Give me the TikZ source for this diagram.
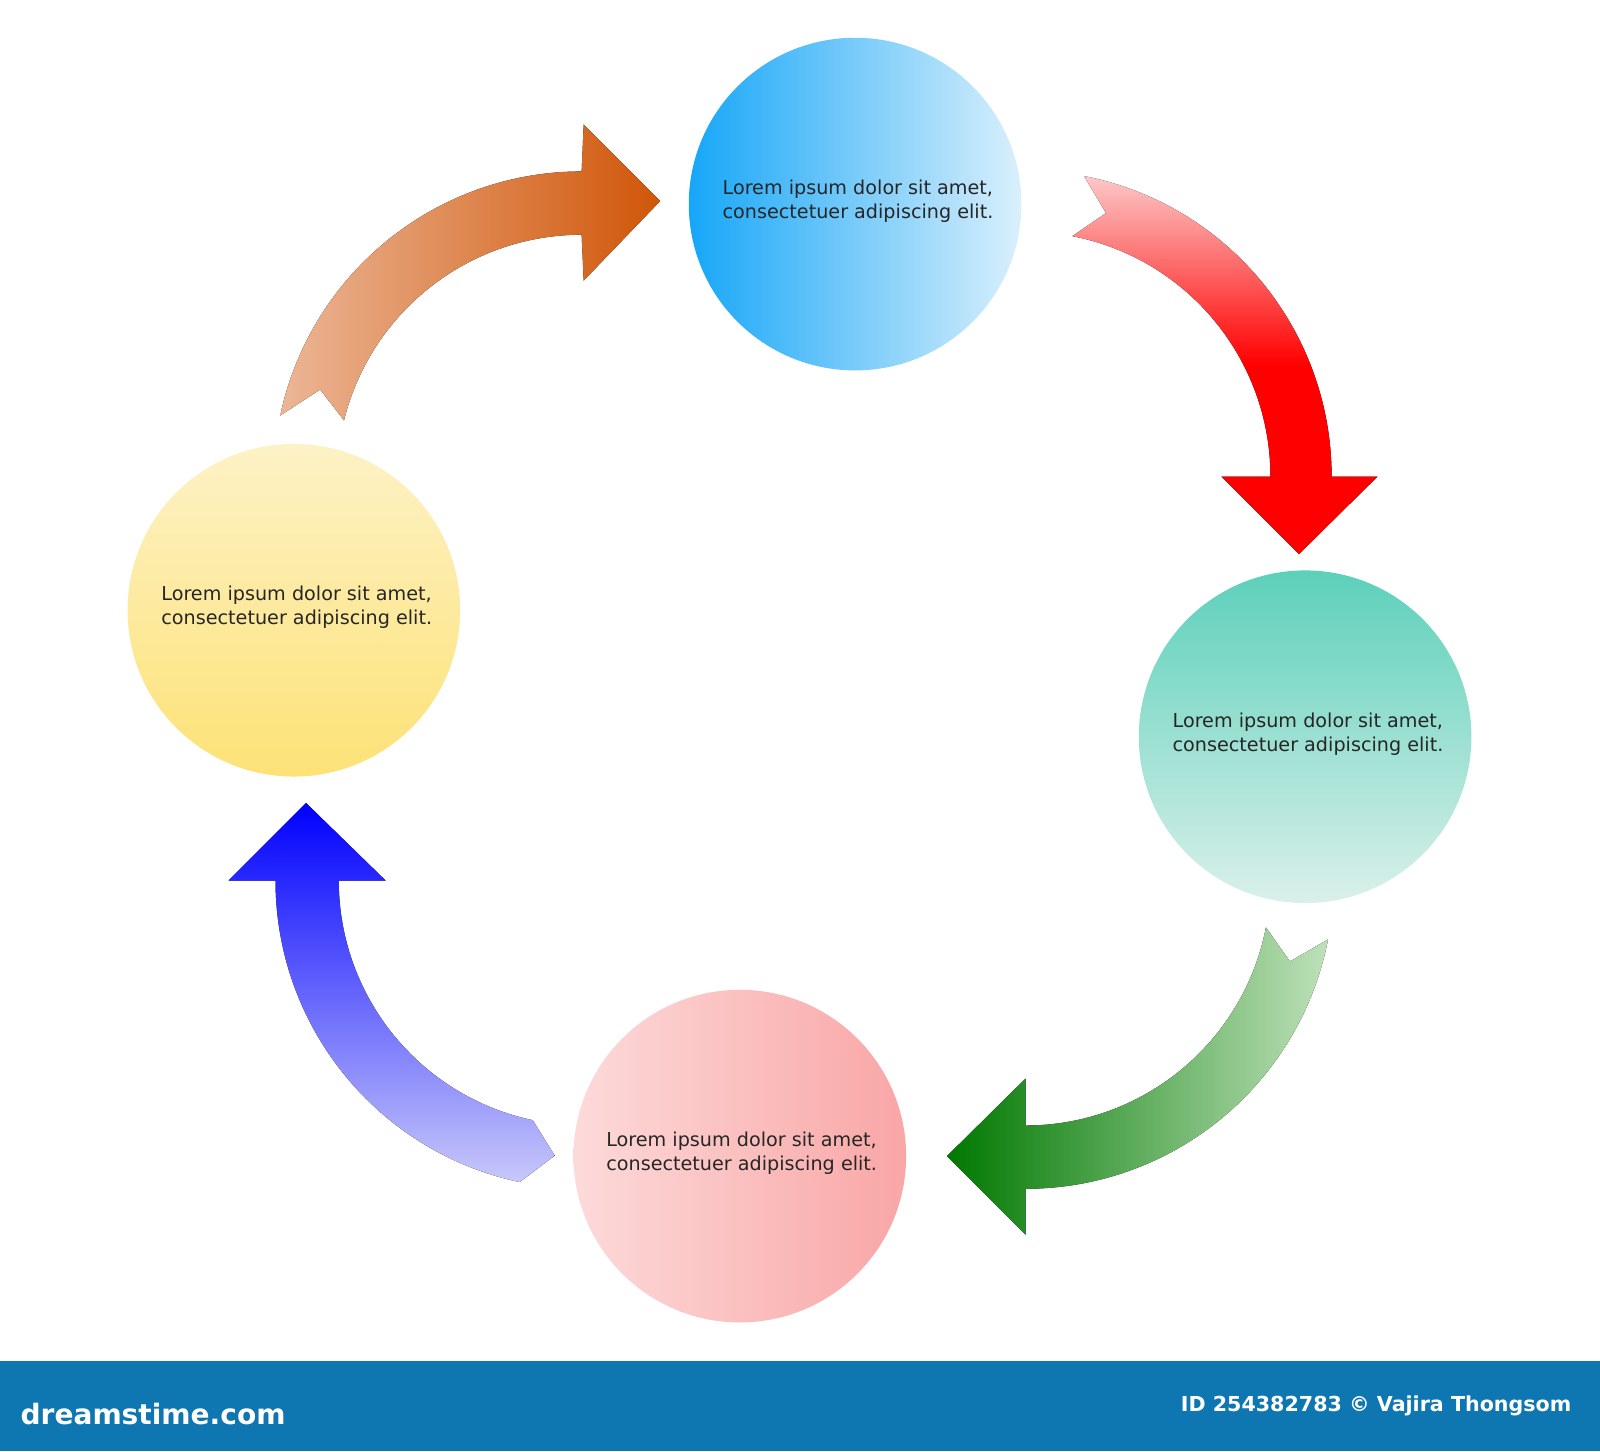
\documentclass[tikz,border=0pt]{standalone}
\usepackage{fontspec}
\setmainfont{DejaVu Sans}
\begin{document}
\begin{tikzpicture}[x=1pt,y=-1pt,
  txt/.style={anchor=north west,align=left,font=\fontsize{18.8}{24}\selectfont,text=black!85,inner sep=0pt},
  circ/.style={circle,minimum size=326pt,inner sep=0pt}]
\useasboundingbox (0,0) rectangle (1568,1422);
% circles
\node[circ,left color={rgb,255:red,22;green,166;blue,248},right color={rgb,255:red,218;green,240;blue,252}] (c1) at (838,200) {};
\node[circ,top color={rgb,255:red,92;green,208;blue,186},bottom color={rgb,255:red,218;green,240;blue,234}] (c2) at (1279,722) {};
\node[circ,left color={rgb,255:red,253;green,218;blue,218},right color={rgb,255:red,249;green,166;blue,166}] (c3) at (725,1133) {};
\node[circ,top color={rgb,255:red,253;green,242;blue,198},bottom color={rgb,255:red,253;green,226;blue,118}] (c4) at (288,598) {};
% texts
\node[txt] (t1) at (708,176) {Lorem ipsum dolor sit amet,\\consectetuer adipiscing elit.};
\node[txt] (t2) at (1149,698) {Lorem ipsum dolor sit amet,\\consectetuer adipiscing elit.};
\node[txt] (t3) at (594,1109) {Lorem ipsum dolor sit amet,\\consectetuer adipiscing elit.};
\node[txt] (t4) at (158,574) {Lorem ipsum dolor sit amet,\\consectetuer adipiscing elit.};
% orange arrow
\fill[left color={rgb,255:red,236;green,182;blue,150},right color={rgb,255:red,208;green,86;blue,8}]
 ([shift={(-168:302)}]570,470) arc[start angle=-168,end angle=-90,radius=302]
 -- (572,122) -- (647,197) -- (572,275) -- (570,230)
 arc[start angle=-90,end angle=-166,radius=240]
 -- ([shift={(-161:271)}]570,470) -- cycle;
% red arrow
\fill[top color={rgb,255:red,252;green,200;blue,200},bottom color=red,middle color=red]
 ([shift={(-79:300)}]1005,467) arc[start angle=-79,end angle=0,radius=300]
 -- (1350,467) -- (1273,543) -- (1197,467) -- (1245,467)
 arc[start angle=0,end angle=-79,radius=240]
 -- ([shift={(-73:270)}]1005,467) -- cycle;
% green arrow
\fill[left color={rgb,255:red,0;green,120;blue,0},right color={rgb,255:red,190;green,225;blue,185}]
 ([shift={(11:302)}]1005,863) arc[start angle=11,end angle=90,radius=302]
 -- (1005,1210) -- (928,1133) -- (1005,1057) -- (1005,1103)
 arc[start angle=90,end angle=11,radius=240]
 -- ([shift={(17:271)}]1005,863) -- cycle;
% blue arrow
\fill[top color=blue,middle color=blue,bottom color={rgb,255:red,200;green,200;blue,250}]
 ([shift={(102:302)}]572,863) arc[start angle=102,end angle=180,radius=302]
 -- (224,863) -- (300,787) -- (378,863) -- (332,863)
 arc[start angle=180,end angle=102,radius=240]
 -- ([shift={(96:271)}]572,863) -- cycle;
% bottom bar
\fill[fill={rgb,255:red,14;green,118;blue,176}] (0,1334) rectangle (1568,1422);
\node[anchor=west,text=white,font=\bfseries\fontsize{27.5}{30}\selectfont,inner sep=0pt] (brand) at (20,1386) {dreamstime.com};
\node[anchor=east,text=white,font=\bfseries\fontsize{20.2}{24}\selectfont,inner sep=0pt] (id) at (1540,1378) {ID 254382783 © Vajira Thongsom};
\end{tikzpicture}
\end{document}
